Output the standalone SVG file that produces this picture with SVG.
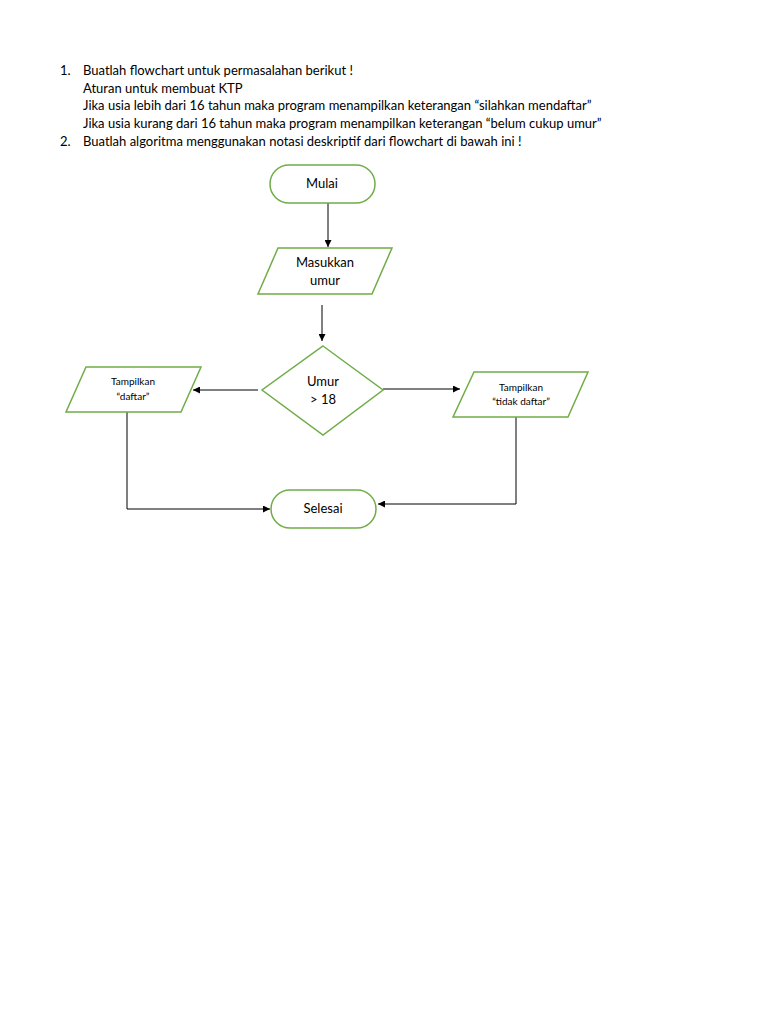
<svg xmlns="http://www.w3.org/2000/svg" width="768" height="1024" viewBox="0 0 768 1024">
<style>
.s{fill:#fff;stroke:#70ad47;stroke-width:1.5}
.t{font-family:Lato,"Liberation Sans",sans-serif;font-size:13px;fill:#000}
.sm{font-family:Lato,"Liberation Sans",sans-serif;font-size:10px;fill:#000}
.c{fill:none;stroke:#000;stroke-width:1}
</style>
<defs><marker id="a" viewBox="0 0 10 10" refX="10" refY="5" markerWidth="7" markerHeight="7" orient="auto"><path d="M0,0L10,5L0,10z" fill="#000"/></marker></defs>
<rect width="768" height="1024" fill="#fff"/>
<g id="text" class="t">
<text x="60" y="75">1.</text><text x="83" y="75">Buatlah flowchart untuk permasalahan berikut !</text>
<text x="83" y="93">Aturan untuk membuat KTP</text>
<text x="83" y="110">Jika usia lebih dari 16 tahun maka program menampilkan keterangan “silahkan mendaftar”</text>
<text x="83" y="128">Jika usia kurang dari 16 tahun maka program menampilkan keterangan “belum cukup umur”</text>
<text x="60" y="146">2.</text><text x="83" y="146">Buatlah algoritma menggunakan notasi deskriptif dari flowchart di bawah ini !</text>
</g>
<g id="connectors">
<path class="c" d="M328,203V247" marker-end="url(#a)"/>
<path class="c" d="M322,305V341" marker-end="url(#a)"/>
<path class="c" d="M258,390H193" marker-end="url(#a)"/>
<path class="c" d="M383,389H460" marker-end="url(#a)"/>
<path class="c" d="M127,412V509H270" marker-end="url(#a)"/>
<path class="c" d="M516,417V504H378" marker-end="url(#a)"/>
</g>
<g id="mulai"><rect class="s" x="270" y="165" width="105" height="38" rx="19"/><text class="t" x="322" y="188" text-anchor="middle">Mulai</text></g>
<g id="input"><polygon class="s" points="278,248 392,248 372,294 258,294"/><text class="t" x="325" y="267" text-anchor="middle">Masukkan</text><text class="t" x="325" y="285" text-anchor="middle">umur</text></g>
<g id="dec"><polygon class="s" points="323,346 383,390 323,435 262,390"/><text class="t" x="323" y="386" text-anchor="middle">Umur</text><text class="t" x="323" y="404" text-anchor="middle">&gt; 18</text></g>
<g id="daftar"><polygon class="s" points="86,367 201,367 181,412 66,412"/><text class="sm" x="133" y="385" text-anchor="middle">Tampilkan</text><text class="sm" x="133" y="400" text-anchor="middle">“daftar”</text></g>
<g id="tidak"><polygon class="s" points="474,372 588,372 568,417 453,417"/><text class="sm" x="521" y="391" text-anchor="middle">Tampilkan</text><text class="sm" x="521" y="405" text-anchor="middle">“tidak daftar”</text></g>
<g id="selesai"><rect class="s" x="271" y="490" width="105" height="38" rx="19"/><text class="t" x="323" y="513" text-anchor="middle">Selesai</text></g>
</svg>
